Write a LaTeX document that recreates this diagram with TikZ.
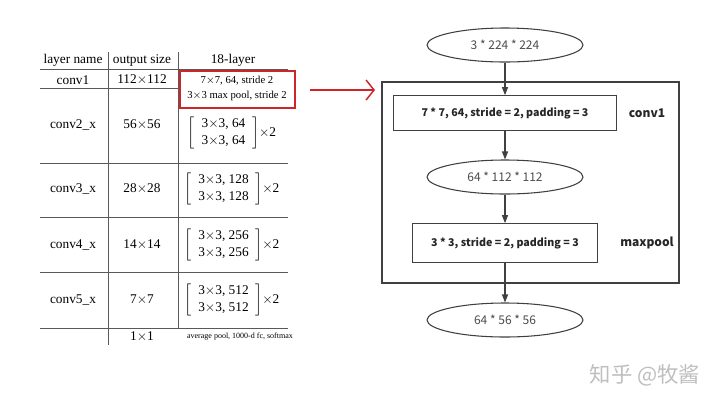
\documentclass[tikz,border=0pt]{standalone}
\usepackage{fontspec}
\setmainfont{Liberation Serif}
\newfontfamily\yahei{Noto Sans CJK SC}
\usetikzlibrary{arrows.meta,shapes.geometric}
\definecolor{boxred}{RGB}{208,36,40}
\definecolor{ink}{RGB}{64,64,64}
\newcommand{\blk}[1]{$\left[\rule[-10pt]{0pt}{25pt}\mbox{\renewcommand{\arraystretch}{1.05}\begin{tabular}{@{\hspace{5pt}}c@{\hspace{5pt}}}3$\times$3, #1\\3$\times$3, #1\end{tabular}}\right]\!\times$2}

\begin{document}
\begin{tikzpicture}[x=0.75pt,y=-0.75pt,
		cell/.style = {inner sep=0pt, font=\fontsize{10}{12}\selectfont},
		small/.style = {inner sep=0pt, font=\fontsize{8}{9}\selectfont},
		rule/.style = {draw=black!65, line width=0.5pt},
		dims/.style = {ellipse, draw=ink, line width=0.8pt, minimum width=117pt,
			minimum height=25.5pt, inner sep=0pt, text=black!70, font=\yahei\fontsize{9}{11}\selectfont},
		layer/.style = {rectangle, draw=ink, line width=0.8pt, minimum height=26pt,
			inner sep=0pt, text=black!85, font=\yahei\bfseries\fontsize{8}{10}\selectfont},
		tag/.style = {inner sep=0pt, text=black!85, font=\yahei\bfseries\fontsize{9}{11}\selectfont},
		flow/.style = {draw=ink, line width=0.8pt, -{Triangle[length=6pt,width=4.5pt]}}]
	\useasboundingbox (0,0) rectangle (720,405);
	\fill[white] (0,0) rectangle (720,405);

	% table
	\draw[rule] (40,69) -- (288,69);
	\draw[rule] (40,88) -- (178,88);
	\foreach \y in {163,217,272,328}
		\draw[rule] (40,\y) -- (288,\y);
	\draw[rule] (108,52) -- (108,345);
	\draw[rule] (178,52) -- (178,328);

	\node[cell] (hname) at (73,60) {layer name};
	\node[cell] (hsize) at (142,60) {output size};
	\node[cell] (hdepth) at (233,60) {18-layer};

	\node[cell] (nconv1) at (73,80) {conv1};
	\node[cell] (sconv1) at (142,80) {112$\times$112};
	\node[small] (kconv1) at (237,81) {7$\times$7, 64, stride 2};
	\node[small] (kpool) at (237,96) {3$\times$3 max pool, stride 2};

	\node[cell] (nconv2) at (73,125) {conv2\_x};
	\node[cell] (sconv2) at (142,125) {56$\times$56};
	\node[cell] (bconv2) at (232,133) {\blk{64}};

	\node[cell] (nconv3) at (73,189) {conv3\_x};
	\node[cell] (sconv3) at (142,189) {28$\times$28};
	\node[cell] (bconv3) at (232,189) {\blk{128}};

	\node[cell] (nconv4) at (73,245) {conv4\_x};
	\node[cell] (sconv4) at (142,245) {14$\times$14};
	\node[cell] (bconv4) at (232,245) {\blk{256}};

	\node[cell] (nconv5) at (73,300) {conv5\_x};
	\node[cell] (sconv5) at (142,300) {7$\times$7};
	\node[cell] (bconv5) at (232,300) {\blk{512}};

	\node[cell] (sfc) at (142,337) {1$\times$1};
	\node[inner sep=0pt, font=\fontsize{6}{7}\selectfont] (kfc) at (240,337) {average pool, 1000-d fc, softmax};

	% red mark
	\draw[boxred, line width=1.5pt] (180,71) rectangle (295,108);
	\coordinate (from) at (310,90);
	\coordinate (into) at (375,90);
	\draw[boxred, line width=1.1pt, -{Straight Barb[length=6pt,width=15pt]}] (from) -- (into);

	% flow
	\draw[draw=ink, line width=0.8pt] (382,82) rectangle (679,283);
	\node[dims] (input) at (505,45) {3 * 224 * 224};
	\node[layer, minimum width=167pt] (conv) at (505,113) {7 * 7, 64, stride = 2, padding = 3};
	\node[tag] (convtag) at (647,113) {conv1};
	\node[dims] (mid) at (505,177) {64 * 112 * 112};
	\node[layer, minimum width=139pt, minimum height=29pt] (pool) at (505,243) {3 * 3, stride = 2, padding = 3};
	\node[tag] (pooltag) at (647,243) {maxpool};
	\node[dims] (output) at (505,320) {64 * 56 * 56};

	\draw[flow] (input) -- (conv);
	\draw[flow] (conv) -- (mid);
	\draw[flow] (mid) -- (pool);
	\draw[flow] (pool) -- (output);

	\node[inner sep=0pt, text=black!25, font=\yahei\fontsize{16}{18}\selectfont] (mark) at (645,375) {知乎 @牧酱};
\end{tikzpicture}
\end{document}
